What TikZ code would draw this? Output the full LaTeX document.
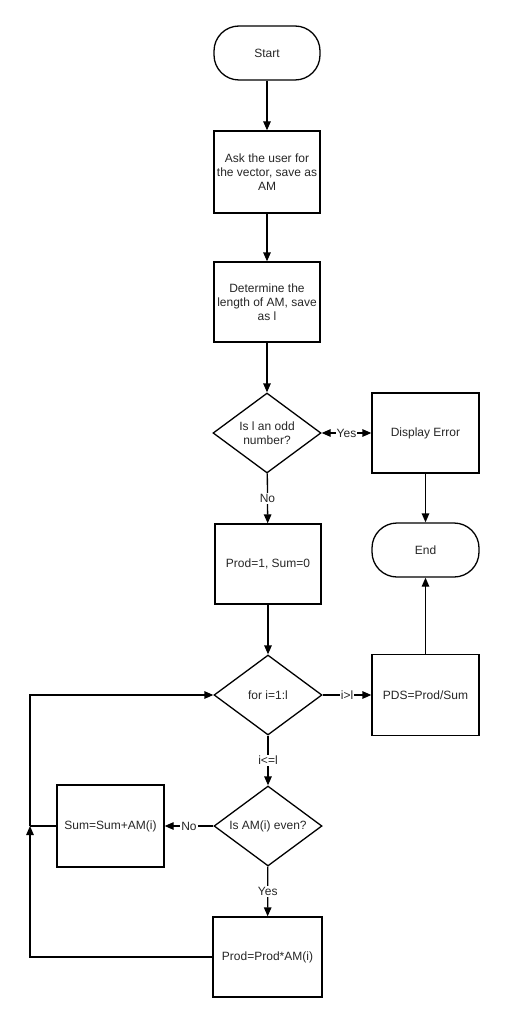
\documentclass[tikz,border=0pt]{standalone}
\usepackage{fontspec}
\setmainfont{Liberation Sans}
\usepackage{tikz}
\usetikzlibrary{shapes.geometric,arrows.meta,positioning,calc}

\begin{document}
\begin{tikzpicture}[x=1pt,y=-1pt,line width=1.3pt,
		every node/.style={font=\fontsize{12}{14}\selectfont,text=black!85,align=center},
		term/.style={draw,rectangle,rounded corners=25pt,minimum width=106pt,minimum height=54pt,inner sep=0pt},
		proc/.style={draw,rectangle,minimum width=106pt,minimum height=81pt,inner sep=0pt},
		decide/.style={draw,diamond,aspect=1.35,minimum width=108pt,minimum height=80pt,inner sep=0pt},
		arr/.style={-{Triangle[length=9pt,width=7.5pt]}},
		lbl/.style={fill=white,inner sep=1pt}]
		\useasboundingbox (0,0) rectangle (506,1024);
		% main column
		\node[term] (start) at (267,53) {Start};
		\node[proc,minimum height=82pt] (ask) at (267,172) {Ask the user for\\the vector, save as\\AM};
		\node[proc,minimum height=80pt] (len) at (267,302) {Determine the\\length of AM, save\\as l};
		\node[decide] (odd) at (267,433) {Is l an odd\\number?};
		\node[proc,minimum height=80pt] (init) at (268,564) {Prod=1, Sum=0};
		\node[decide] (loop) at (268,695) {for i=1:l};
		\node[decide] (even) at (268,826) {Is AM(i) even?};
		\node[proc,minimum width=109pt,minimum height=80pt] (prod) at (267.5,957) {Prod=Prod*AM(i)};
		% right column
		\node[proc,minimum width=107pt,minimum height=80pt] (err) at (425.5,433) {Display Error};
		\node[term,minimum width=107pt] (end) at (425.5,550) {End};
		\node[proc,minimum width=107pt,minimum height=81pt] (pds) at (425.5,695) {PDS=Prod/Sum};
		% left
		\node[proc,minimum width=107pt,minimum height=82pt] (sum) at (110.5,826) {Sum=Sum+AM(i)};
		\coordinate (join) at (30,826);

		\draw[arr] (start) -- (ask);
		\draw[arr] (ask) -- (len);
		\draw[arr] (len) -- (odd);
		\draw[{Triangle[length=9pt,width=7.5pt]}-{Triangle[length=9pt,width=7.5pt]}] (odd) -- node[lbl]{Yes} (err);
		\draw[arr] (odd) -- node[lbl]{No} (init);
		\draw[arr] (err) -- (end);
		\draw[arr] (init) -- (loop);
		\draw[arr] (loop) -- node[lbl]{i>l} (pds);
		\draw[arr] (pds) -- (end);
		\draw[arr] (loop) -- node[lbl]{i<=l} (even);
		\draw[arr] (even) -- node[lbl]{No} (sum);
		\draw[arr] (even) -- node[lbl]{Yes} (prod);
		\draw (sum.west) -- (join);
		\draw[arr] (prod.west) -| (join);
		\draw[arr] (join) |- (loop.west);
\end{tikzpicture}
\end{document}
